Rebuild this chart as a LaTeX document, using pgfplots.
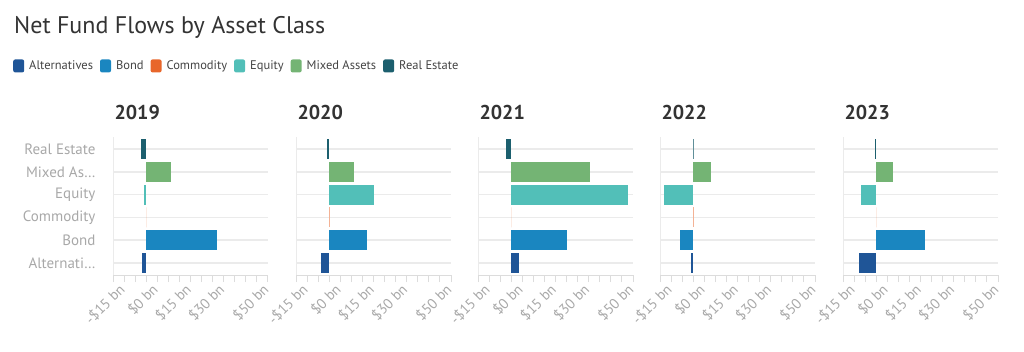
\documentclass[border=0pt]{standalone}
\usepackage{pgfplots}
\pgfplotsset{compat=1.18}
\usepackage{fontspec}
\setmainfont{PT Sans}
\definecolor{altc}{HTML}{1F5597}
\definecolor{bondc}{HTML}{1A86C0}
\definecolor{comc}{HTML}{E8662A}
\definecolor{eqc}{HTML}{52BFB8}
\definecolor{mixc}{HTML}{74B474}
\definecolor{rec}{HTML}{1C5F6E}
\definecolor{gridc}{HTML}{EBEBEB}
\definecolor{axc}{HTML}{DCDCDC}
\definecolor{labc}{HTML}{A8A8A8}
\definecolor{titc}{HTML}{333333}
\definecolor{legc}{HTML}{444444}
\pgfplotsset{
  panel/.style={
    xbar, bar shift=0pt, bar width=0.87,
    width=155pt, height=138pt, scale only axis,
    anchor=north west,
    xmin=-15, xmax=55, ymin=-0.53, ymax=5.53,
    axis x line*=bottom, axis y line*=left,
    x axis line style={-, draw=axc, line width=1pt},
    y axis line style={-, draw=gridc, line width=1pt},
    ymajorgrids, major grid style={draw=gridc, line width=1.4pt},
    ytick={0,1,2,3,4,5}, yticklabels={},
    ytick style={draw=none},
    xtick={-15,0,15,30,50},
    xticklabels={-\$15 bn,\$0 bn,\$15 bn,\$30 bn,\$50 bn},
    minor xtick={-10,-5,5,10,20,25,35,40,45,55},
    tick align=outside, major tick length=7pt, minor tick length=7pt,
    xtick style={draw=axc, line width=1pt},
    minor x tick style={draw=axc, line width=1pt},
    x tick label style={rotate=45, anchor=east, font=\fontsize{14.5}{15}\selectfont, text=labc, inner sep=1pt, xshift=4pt, yshift=-10pt},
    y tick label style={font=\fontsize{15}{16}\selectfont, text=labc},
    title style={at={(0,1)}, anchor=base west, yshift=12pt, xshift=-2pt, font=\bfseries\fontsize{20}{20}\selectfont, text=titc},
    every axis plot/.append style={draw=none},
    legend image code/.code={\fill[##1, rounded corners=2pt] (0pt,-6.5pt) rectangle (11pt,6.5pt);},
  }
}
\begin{document}
\begin{tikzpicture}
\useasboundingbox (0,0) rectangle (1024pt,-351pt);
\node[anchor=base west, font=\fontsize{24}{25}\selectfont, text=titc, inner sep=0pt] at (14pt,-33pt) {Net Fund Flows by Asset Class};
% 2019
\begin{axis}[panel, at={(113pt,-137pt)}, title={2019},
  yticklabels={Alternati…,Bond,Commodity,Equity,Mixed As…,Real Estate},
  yticklabel style={xshift=-7pt},
  legend columns=6,
  legend style={at={(-0.645,1.515)}, anchor=west, draw=none, fill=none, inner sep=0pt,
    font=\fontsize{12.5}{13}\selectfont, text=legc,
    /tikz/every odd column/.append style={column sep=3pt},
    /tikz/every even column/.append style={column sep=5pt}},
]
\addplot[fill=altc] coordinates {(-2.0,0)};
\addplot[fill=bondc] coordinates {(31.8,1)};
\addplot[fill=comc] coordinates {(0,2)};
\addplot[fill=eqc] coordinates {(-1.2,3)};
\addplot[fill=mixc] coordinates {(11.2,4)};
\addplot[fill=rec] coordinates {(-2.2,5)};
\legend{Alternatives,Bond,Commodity,Equity,Mixed Assets,Real Estate}
\end{axis}
% 2020
\begin{axis}[panel, at={(296pt,-137pt)}, title={2020}]
\addplot[fill=altc] coordinates {(-3.8,0)};
\addplot[fill=bondc] coordinates {(16.9,1)};
\addplot[fill=comc!50] coordinates {(0.1,2)};
\addplot[fill=eqc] coordinates {(20.0,3)};
\addplot[fill=mixc] coordinates {(11.0,4)};
\addplot[fill=rec] coordinates {(-1.1,5)};
\end{axis}
% 2021
\begin{axis}[panel, at={(478pt,-137pt)}, title={2021}]
\addplot[fill=altc] coordinates {(3.6,0)};
\addplot[fill=bondc] coordinates {(25.2,1)};
\addplot[fill=comc] coordinates {(0,2)};
\addplot[fill=eqc] coordinates {(52.8,3)};
\addplot[fill=mixc] coordinates {(35.5,4)};
\addplot[fill=rec] coordinates {(-2.4,5)};
\end{axis}
% 2022
\begin{axis}[panel, at={(660pt,-137pt)}, title={2022}]
\addplot[fill=altc] coordinates {(-1.0,0)};
\addplot[fill=bondc] coordinates {(-6.0,1)};
\addplot[fill=comc!50] coordinates {(0.1,2)};
\addplot[fill=eqc] coordinates {(-13.0,3)};
\addplot[fill=mixc] coordinates {(8.1,4)};
\addplot[fill=rec!70] coordinates {(0.3,5)};
\end{axis}
% 2023
\begin{axis}[panel, at={(843pt,-137pt)}, title={2023}]
\addplot[fill=altc] coordinates {(-7.6,0)};
\addplot[fill=bondc] coordinates {(22.2,1)};
\addplot[fill=comc] coordinates {(0,2)};
\addplot[fill=eqc] coordinates {(-7.0,3)};
\addplot[fill=mixc] coordinates {(7.5,4)};
\addplot[fill=rec] coordinates {(-0.4,5)};
\end{axis}
\end{tikzpicture}
\end{document}
